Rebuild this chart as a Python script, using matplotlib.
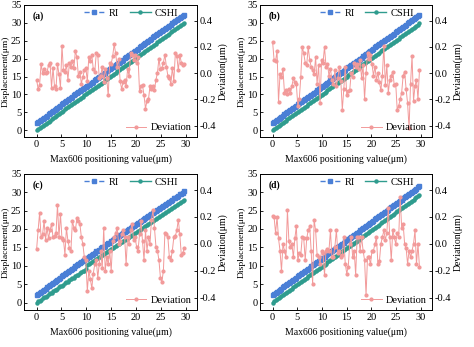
import matplotlib
matplotlib.use("Agg")
import matplotlib.pyplot as plt

plt.rcParams['font.family'] = ['Liberation Serif', 'DejaVu Serif']
plt.rcParams['mathtext.fontset'] = 'stix'

# Max606 positioning values (um)
pos = [0.0, 0.3, 0.6, 0.9, 1.2, 1.5, 1.8, 2.1, 2.4, 2.7,
       3.0, 3.3, 3.6, 3.9, 4.2, 4.5, 4.8, 5.1, 5.4, 5.7,
       6.0, 6.3, 6.6, 6.9, 7.2, 7.5, 7.8, 8.1, 8.4, 8.7,
       9.0, 9.3, 9.6, 9.9, 10.2, 10.5, 10.8, 11.1, 11.4, 11.7,
       12.0, 12.3, 12.6, 12.9, 13.2, 13.5, 13.8, 14.1, 14.4, 14.7,
       15.0, 15.3, 15.6, 15.9, 16.2, 16.5, 16.8, 17.1, 17.4, 17.7,
       18.0, 18.3, 18.6, 18.9, 19.2, 19.5, 19.8, 20.1, 20.4, 20.7,
       21.0, 21.3, 21.6, 21.9, 22.2, 22.5, 22.8, 23.1, 23.4, 23.7,
       24.0, 24.3, 24.6, 24.9, 25.2, 25.5, 25.8, 26.1, 26.4, 26.7,
       27.0, 27.3, 27.6, 27.9, 28.2, 28.5, 28.8, 29.1, 29.4, 29.7]

# panel (a)
ri_a = [2.0, 2.3, 2.6, 2.9, 3.2, 3.5, 3.8, 4.1, 4.4, 4.8,
        5.1, 5.4, 5.7, 6.0, 6.3, 6.6, 6.9, 7.2, 7.5, 7.8,
        8.1, 8.4, 8.7, 9.0, 9.3, 9.7, 10.0, 10.3, 10.6, 10.9,
        11.2, 11.5, 11.8, 12.1, 12.4, 12.7, 13.0, 13.3, 13.6, 13.9,
        14.2, 14.5, 14.9, 15.2, 15.5, 15.8, 16.1, 16.4, 16.7, 17.0,
        17.3, 17.6, 17.9, 18.2, 18.5, 18.8, 19.1, 19.4, 19.7, 20.1,
        20.4, 20.7, 21.0, 21.3, 21.6, 21.9, 22.2, 22.5, 22.8, 23.1,
        23.4, 23.7, 24.0, 24.3, 24.6, 24.9, 25.3, 25.6, 25.9, 26.2,
        26.5, 26.8, 27.1, 27.4, 27.7, 28.0, 28.3, 28.6, 28.9, 29.2,
        29.5, 29.8, 30.2, 30.5, 30.8, 31.1, 31.4, 31.7, 32.0, 32.3]
cshi_a = [0.0, 0.3, 0.6, 0.9, 1.2, 1.5, 1.8, 2.1, 2.4, 2.7,
          3.0, 3.3, 3.6, 3.9, 4.2, 4.5, 4.8, 5.2, 5.5, 5.8,
          6.1, 6.4, 6.7, 7.0, 7.3, 7.6, 7.9, 8.2, 8.5, 8.8,
          9.1, 9.4, 9.7, 10.0, 10.3, 10.6, 10.9, 11.2, 11.5, 11.8,
          12.1, 12.4, 12.7, 13.0, 13.3, 13.6, 13.9, 14.2, 14.5, 14.8,
          15.2, 15.5, 15.8, 16.1, 16.4, 16.7, 17.0, 17.3, 17.6, 17.9,
          18.2, 18.5, 18.8, 19.1, 19.4, 19.7, 20.0, 20.3, 20.6, 20.9,
          21.2, 21.5, 21.8, 22.1, 22.4, 22.7, 23.0, 23.3, 23.6, 23.9,
          24.2, 24.5, 24.8, 25.1, 25.4, 25.8, 26.1, 26.4, 26.7, 27.0,
          27.3, 27.6, 27.9, 28.2, 28.5, 28.8, 29.1, 29.4, 29.7, 30.0]
dev_a = [-0.05, -0.12, -0.09, 0.07, 0.00, 0.03, 0.00, 0.01, 0.06, 0.08,
         -0.11, 0.04, -0.10, -0.12, 0.07, -0.01, -0.11, 0.21, 0.02, 0.01,
         0.06, -0.05, 0.08, 0.05, 0.09, 0.04, 0.17, 0.12, -0.02, 0.01,
         -0.08, -0.03, 0.02, 0.04, -0.06, 0.12, 0.09, 0.14, 0.03, 0.01,
         0.15, 0.14, -0.04, -0.02, 0.05, -0.07, 0.03, -0.04, -0.17, 0.08,
         0.07, 0.13, 0.22, 0.15, 0.05, 0.11, -0.06, -0.12, -0.07, -0.05,
         -0.10, 0.03, -0.02, 0.15, 0.14, 0.10, 0.14, 0.08, 0.12, -0.14,
         -0.10, -0.09, -0.17, -0.27, -0.21, -0.20, -0.10, -0.12, -0.10, -0.13,
         -0.05, 0.00, 0.11, 0.03, 0.04, 0.08, 0.14, 0.05, -0.02, -0.04,
         -0.08, 0.04, -0.06, 0.15, 0.13, 0.02, 0.14, 0.08, 0.06, 0.07]

# panel (b)
ri_b = [2.0, 2.3, 2.6, 2.9, 3.2, 3.5, 3.8, 4.1, 4.4, 4.7,
        5.1, 5.4, 5.7, 6.0, 6.3, 6.6, 6.9, 7.2, 7.5, 7.8,
        8.1, 8.4, 8.7, 9.0, 9.3, 9.6, 9.9, 10.2, 10.5, 10.8,
        11.2, 11.5, 11.8, 12.1, 12.4, 12.7, 13.0, 13.3, 13.6, 13.9,
        14.2, 14.5, 14.8, 15.1, 15.4, 15.7, 16.0, 16.3, 16.6, 16.9,
        17.3, 17.6, 17.9, 18.2, 18.5, 18.8, 19.1, 19.4, 19.7, 20.0,
        20.3, 20.6, 20.9, 21.2, 21.5, 21.8, 22.1, 22.4, 22.7, 23.1,
        23.4, 23.7, 24.0, 24.3, 24.6, 24.9, 25.2, 25.5, 25.8, 26.1,
        26.4, 26.7, 27.0, 27.3, 27.6, 28.0, 28.3, 28.6, 28.9, 29.2,
        29.5, 29.8, 30.1, 30.4, 30.7, 31.0, 31.3, 31.6, 31.9, 32.2]
cshi_b = [0.0, 0.3, 0.6, 0.9, 1.2, 1.5, 1.8, 2.1, 2.4, 2.7,
          3.0, 3.3, 3.6, 3.9, 4.2, 4.5, 4.8, 5.1, 5.4, 5.7,
          6.0, 6.3, 6.6, 6.9, 7.2, 7.5, 7.8, 8.1, 8.4, 8.7,
          9.0, 9.3, 9.6, 9.9, 10.2, 10.5, 10.8, 11.1, 11.4, 11.7,
          12.0, 12.3, 12.6, 12.9, 13.2, 13.5, 13.8, 14.1, 14.4, 14.7,
          15.0, 15.3, 15.6, 15.9, 16.2, 16.6, 16.9, 17.2, 17.5, 17.8,
          18.1, 18.4, 18.7, 19.0, 19.3, 19.6, 19.9, 20.2, 20.5, 20.8,
          21.1, 21.4, 21.7, 22.0, 22.3, 22.6, 22.9, 23.2, 23.5, 23.8,
          24.1, 24.4, 24.7, 25.0, 25.3, 25.6, 25.9, 26.2, 26.5, 26.8,
          27.1, 27.4, 27.7, 28.0, 28.3, 28.6, 28.9, 29.2, 29.5, 29.8]
dev_b = [0.24, 0.10, 0.09, 0.17, -0.22, -0.01, -0.03, 0.03, -0.15, -0.13,
         -0.16, -0.12, -0.15, -0.10, -0.04, -0.07, -0.08, -0.25, -0.20, -0.03,
         0.20, 0.15, 0.08, 0.06, 0.20, 0.10, 0.05, 0.02, -0.01, 0.12,
         -0.08, 0.06, -0.23, 0.10, 0.08, 0.20, 0.05, 0.07, -0.02, 0.03,
         -0.05, -0.08, 0.02, -0.10, -0.04, 0.05, -0.06, -0.28, -0.12, 0.05,
         -0.17, -0.14, -0.13, 0.00, -0.03, 0.08, 0.05, 0.07, 0.03, 0.10,
         -0.04, 0.06, -0.20, 0.00, 0.15, 0.11, 0.14, 0.07, -0.02, 0.05,
         -0.05, 0.00, -0.07, -0.13, -0.02, 0.21, -0.09, 0.06, -0.15, -0.05,
         -0.02, 0.01, -0.09, -0.08, -0.28, -0.25, -0.20, -0.15, -0.02, 0.01,
         -0.12, -0.23, -0.42, -0.08, 0.13, -0.21, -0.10, -0.05, -0.20, 0.02]

# panel (c)
ri_c = [2.0, 2.3, 2.6, 2.9, 3.2, 3.5, 3.8, 4.1, 4.4, 4.7,
        5.0, 5.3, 5.6, 5.9, 6.2, 6.5, 6.8, 7.1, 7.4, 7.7,
        8.0, 8.3, 8.6, 8.9, 9.2, 9.5, 9.8, 10.1, 10.4, 10.7,
        11.0, 11.3, 11.6, 11.9, 12.2, 12.5, 12.7, 13.0, 13.3, 13.6,
        13.9, 14.1, 14.4, 14.7, 15.0, 15.2, 15.5, 15.8, 16.1, 16.3,
        16.6, 16.9, 17.2, 17.5, 17.7, 18.0, 18.3, 18.6, 18.8, 19.1,
        19.4, 19.7, 19.9, 20.2, 20.5, 20.8, 21.0, 21.3, 21.6, 21.9,
        22.2, 22.4, 22.7, 23.0, 23.3, 23.5, 23.8, 24.1, 24.4, 24.6,
        25.0, 25.2, 25.5, 25.8, 26.0, 26.3, 26.6, 26.9, 27.1, 27.4,
        27.7, 28.0, 28.3, 28.5, 28.8, 29.1, 29.4, 29.6, 29.9, 30.2]
cshi_c = [0.0, 0.3, 0.5, 0.8, 1.1, 1.4, 1.6, 1.9, 2.2, 2.5,
          2.7, 3.0, 3.3, 3.5, 3.8, 4.1, 4.4, 4.6, 4.9, 5.2,
          5.5, 5.7, 6.0, 6.3, 6.6, 6.8, 7.1, 7.4, 7.6, 7.9,
          8.2, 8.5, 8.7, 9.0, 10.2, 10.5, 10.7, 11.0, 11.3, 11.6,
          11.8, 12.1, 12.4, 12.6, 12.9, 13.2, 13.5, 13.7, 14.0, 14.3,
          14.5, 14.8, 15.1, 15.4, 15.6, 15.9, 16.2, 16.4, 16.7, 17.0,
          17.3, 17.5, 17.8, 18.1, 18.4, 18.6, 18.9, 19.2, 19.4, 19.7,
          20.0, 20.2, 20.5, 20.8, 21.1, 21.3, 21.6, 21.9, 22.1, 22.4,
          22.7, 23.0, 23.2, 23.5, 23.8, 24.0, 24.3, 24.6, 24.9, 25.1,
          25.4, 25.7, 26.0, 26.2, 26.5, 26.8, 27.0, 27.3, 27.6, 27.9]
dev_c = [-0.04, 0.10, 0.23, 0.05, 0.07, 0.17, 0.03, 0.12, 0.04, 0.10,
         0.15, 0.05, 0.06, 0.08, 0.29, 0.05, 0.22, 0.04, 0.03, -0.08,
         0.12, 0.02, -0.03, -0.05, 0.17, 0.12, 0.10, 0.19, 0.17, 0.15,
         0.05, 0.00, -0.10, -0.12, -0.35, -0.20, -0.26, -0.33, -0.22, -0.15,
         -0.12, -0.25, -0.15, -0.05, -0.18, 0.12, -0.20, -0.10, -0.15, -0.05,
         -0.20, 0.02, 0.05, 0.08, 0.12, 0.00, 0.02, 0.07, 0.10, 0.05,
         -0.15, 0.05, 0.00, 0.10, 0.15, 0.03, 0.05, -0.02, -0.05, 0.07,
         0.17, 0.02, -0.12, 0.10, -0.05, 0.05, 0.00, 0.18, 0.25, 0.12,
         -0.02, -0.05, -0.12, -0.25, -0.28, -0.20, 0.08, 0.07, 0.05, -0.10,
         -0.12, -0.05, 0.05, 0.06, 0.10, 0.18, 0.07, -0.08, -0.07, -0.03]

# panel (d)
ri_d = [2.0, 2.3, 2.6, 2.9, 3.2, 3.5, 3.8, 4.1, 4.4, 4.7,
        5.0, 5.3, 5.6, 5.9, 6.2, 6.5, 6.8, 7.1, 7.4, 7.7,
        8.0, 8.3, 8.6, 8.9, 9.2, 9.5, 9.8, 10.1, 10.4, 10.7,
        11.0, 11.3, 11.6, 11.9, 12.2, 12.5, 12.8, 13.1, 13.4, 13.7,
        14.0, 14.3, 14.6, 14.9, 15.2, 15.4, 15.7, 16.0, 16.3, 16.6,
        16.9, 17.2, 17.5, 17.8, 18.1, 18.4, 18.7, 19.0, 19.3, 19.6,
        19.9, 20.2, 20.5, 20.8, 21.1, 21.4, 21.7, 22.0, 22.3, 22.6,
        22.9, 23.2, 23.5, 23.8, 24.1, 24.4, 24.7, 25.0, 25.3, 25.6,
        25.9, 26.2, 26.5, 26.8, 27.1, 27.4, 27.7, 28.0, 28.3, 28.6,
        28.9, 29.2, 29.5, 29.8, 30.1, 30.4, 30.7, 31.0, 31.3, 31.6]
cshi_d = [0.0, 0.3, 0.6, 0.9, 1.2, 1.5, 1.8, 2.1, 2.4, 2.7,
          2.9, 3.2, 3.5, 3.8, 4.1, 4.4, 4.7, 5.0, 5.3, 5.6,
          5.9, 6.2, 6.5, 6.8, 7.1, 7.4, 7.7, 8.0, 8.3, 8.6,
          8.8, 9.1, 9.4, 9.7, 10.0, 10.3, 10.6, 10.9, 11.2, 11.5,
          11.8, 12.1, 12.4, 12.7, 13.0, 13.3, 13.6, 13.9, 14.2, 14.5,
          14.7, 15.0, 15.3, 15.6, 15.9, 16.2, 16.5, 16.8, 17.1, 17.4,
          17.7, 18.0, 18.3, 18.6, 18.9, 19.2, 19.5, 19.8, 20.1, 20.4,
          20.6, 20.9, 21.2, 21.5, 21.8, 22.1, 22.4, 22.7, 23.0, 23.3,
          23.6, 23.9, 24.2, 24.5, 24.8, 25.1, 25.4, 25.7, 26.0, 26.3,
          26.5, 26.8, 27.1, 27.4, 27.7, 28.0, 28.3, 28.6, 28.9, 29.2]
dev_d = [0.21, 0.20, 0.08, 0.20, 0.04, -0.05, -0.20, 0.00, -0.05, -0.10,
         0.25, 0.02, -0.02, 0.00, -0.10, 0.04, 0.13, -0.12, -0.07, -0.08,
         0.05, 0.04, -0.12, 0.04, 0.10, 0.13, -0.05, -0.30, 0.18, 0.10,
         -0.08, -0.10, -0.15, -0.05, -0.07, -0.23, -0.05, -0.04, -0.05, 0.10,
         -0.10, -0.10, -0.02, 0.10, -0.07, -0.05, -0.10, -0.08, 0.05, -0.15,
         -0.22, -0.17, 0.00, 0.05, -0.10, -0.05, -0.23, 0.05, 0.05, -0.05,
         0.05, -0.05, -0.12, -0.38, -0.10, -0.10, -0.15, -0.05, -0.05, 0.00,
         0.05, -0.15, -0.13, 0.00, 0.05, 0.10, 0.03, 0.08, 0.27, 0.05,
         -0.12, 0.10, 0.05, 0.00, 0.08, 0.05, 0.35, 0.12, 0.15, 0.00,
         -0.03, -0.15, -0.05, -0.10, -0.05, 0.00, 0.10, -0.15, 0.00, -0.17]

labels = ['(a)', '(b)', '(c)', '(d)']
ri_all = [ri_a, ri_b, ri_c, ri_d]
cshi_all = [cshi_a, cshi_b, cshi_c, cshi_d]
dev_all = [dev_a, dev_b, dev_c, dev_d]

ri_col = '#4a7fd6'
cshi_col = '#2f9c8e'
dev_col = '#f29a9a'

fig = plt.figure(figsize=(4.74, 3.47), dpi=100)
# left, bottom, width, height of each panel
boxes = [[0.051, 0.604, 0.364, 0.382],
         [0.549, 0.604, 0.362, 0.382],
         [0.051, 0.107, 0.364, 0.392],
         [0.549, 0.107, 0.362, 0.392]]

fs = 7.5
for k in range(4):
    ax = fig.add_axes(boxes[k])
    ax2 = ax.twinx()

    ax.plot(pos, ri_all[k], '--s', color=ri_col, lw=1, ms=2.2, label='RI')
    ax.plot(pos, cshi_all[k], '-o', color=cshi_col, lw=1, ms=2.2,
            label='CSHI')
    ax2.plot(pos, dev_all[k], '-o', color=dev_col, lw=0.7, ms=2,
             label='Deviation')

    ax.set_xlim(-2.5, 32.2)
    ax.set_ylim(-2, 35)
    ax.set_xticks([0, 5, 10, 15, 20, 25, 30])
    ax.set_yticks([0, 5, 10, 15, 20, 25, 30, 35])
    ax2.set_ylim(-0.49, 0.52)
    ax2.set_yticks([-0.4, -0.2, 0.0, 0.2, 0.4])
    ax2.set_yticklabels(['-0.4', '-0.2', '0.0', '0.2', '0.4'])

    for a in (ax, ax2):
        a.tick_params(direction='in', labelsize=fs, length=2.5, width=0.6,
                      pad=2)
        for s in a.spines.values():
            s.set_linewidth(0.6)

    ax.set_xlabel('Max606 positioning value(μm)', fontsize=7)
    ax.xaxis.set_label_coords(0.5, -0.13)
    ax.set_ylabel('Displacement(μm)', fontsize=6.8)
    ax.yaxis.set_label_coords(-0.085, 0.5)
    ax2.set_ylabel('Deviation(μm)', fontsize=7)
    ax2.yaxis.set_label_coords(1.125, 0.5)

    ax.text(0.05, 0.95, labels[k], transform=ax.transAxes, fontsize=fs - 0.5,
            fontweight='bold', va='top', ha='left')
    ax.legend(loc='upper center', bbox_to_anchor=(0.62, 1.02), ncol=2,
              frameon=False, fontsize=fs, handlelength=2.0, columnspacing=1.0,
              handletextpad=0.4, borderaxespad=0.2)
    ax2.legend(loc='lower right', frameon=False, fontsize=fs,
               handlelength=2.0, handletextpad=0.4, borderaxespad=0.1)

fig.savefig('out.png', dpi=100)
